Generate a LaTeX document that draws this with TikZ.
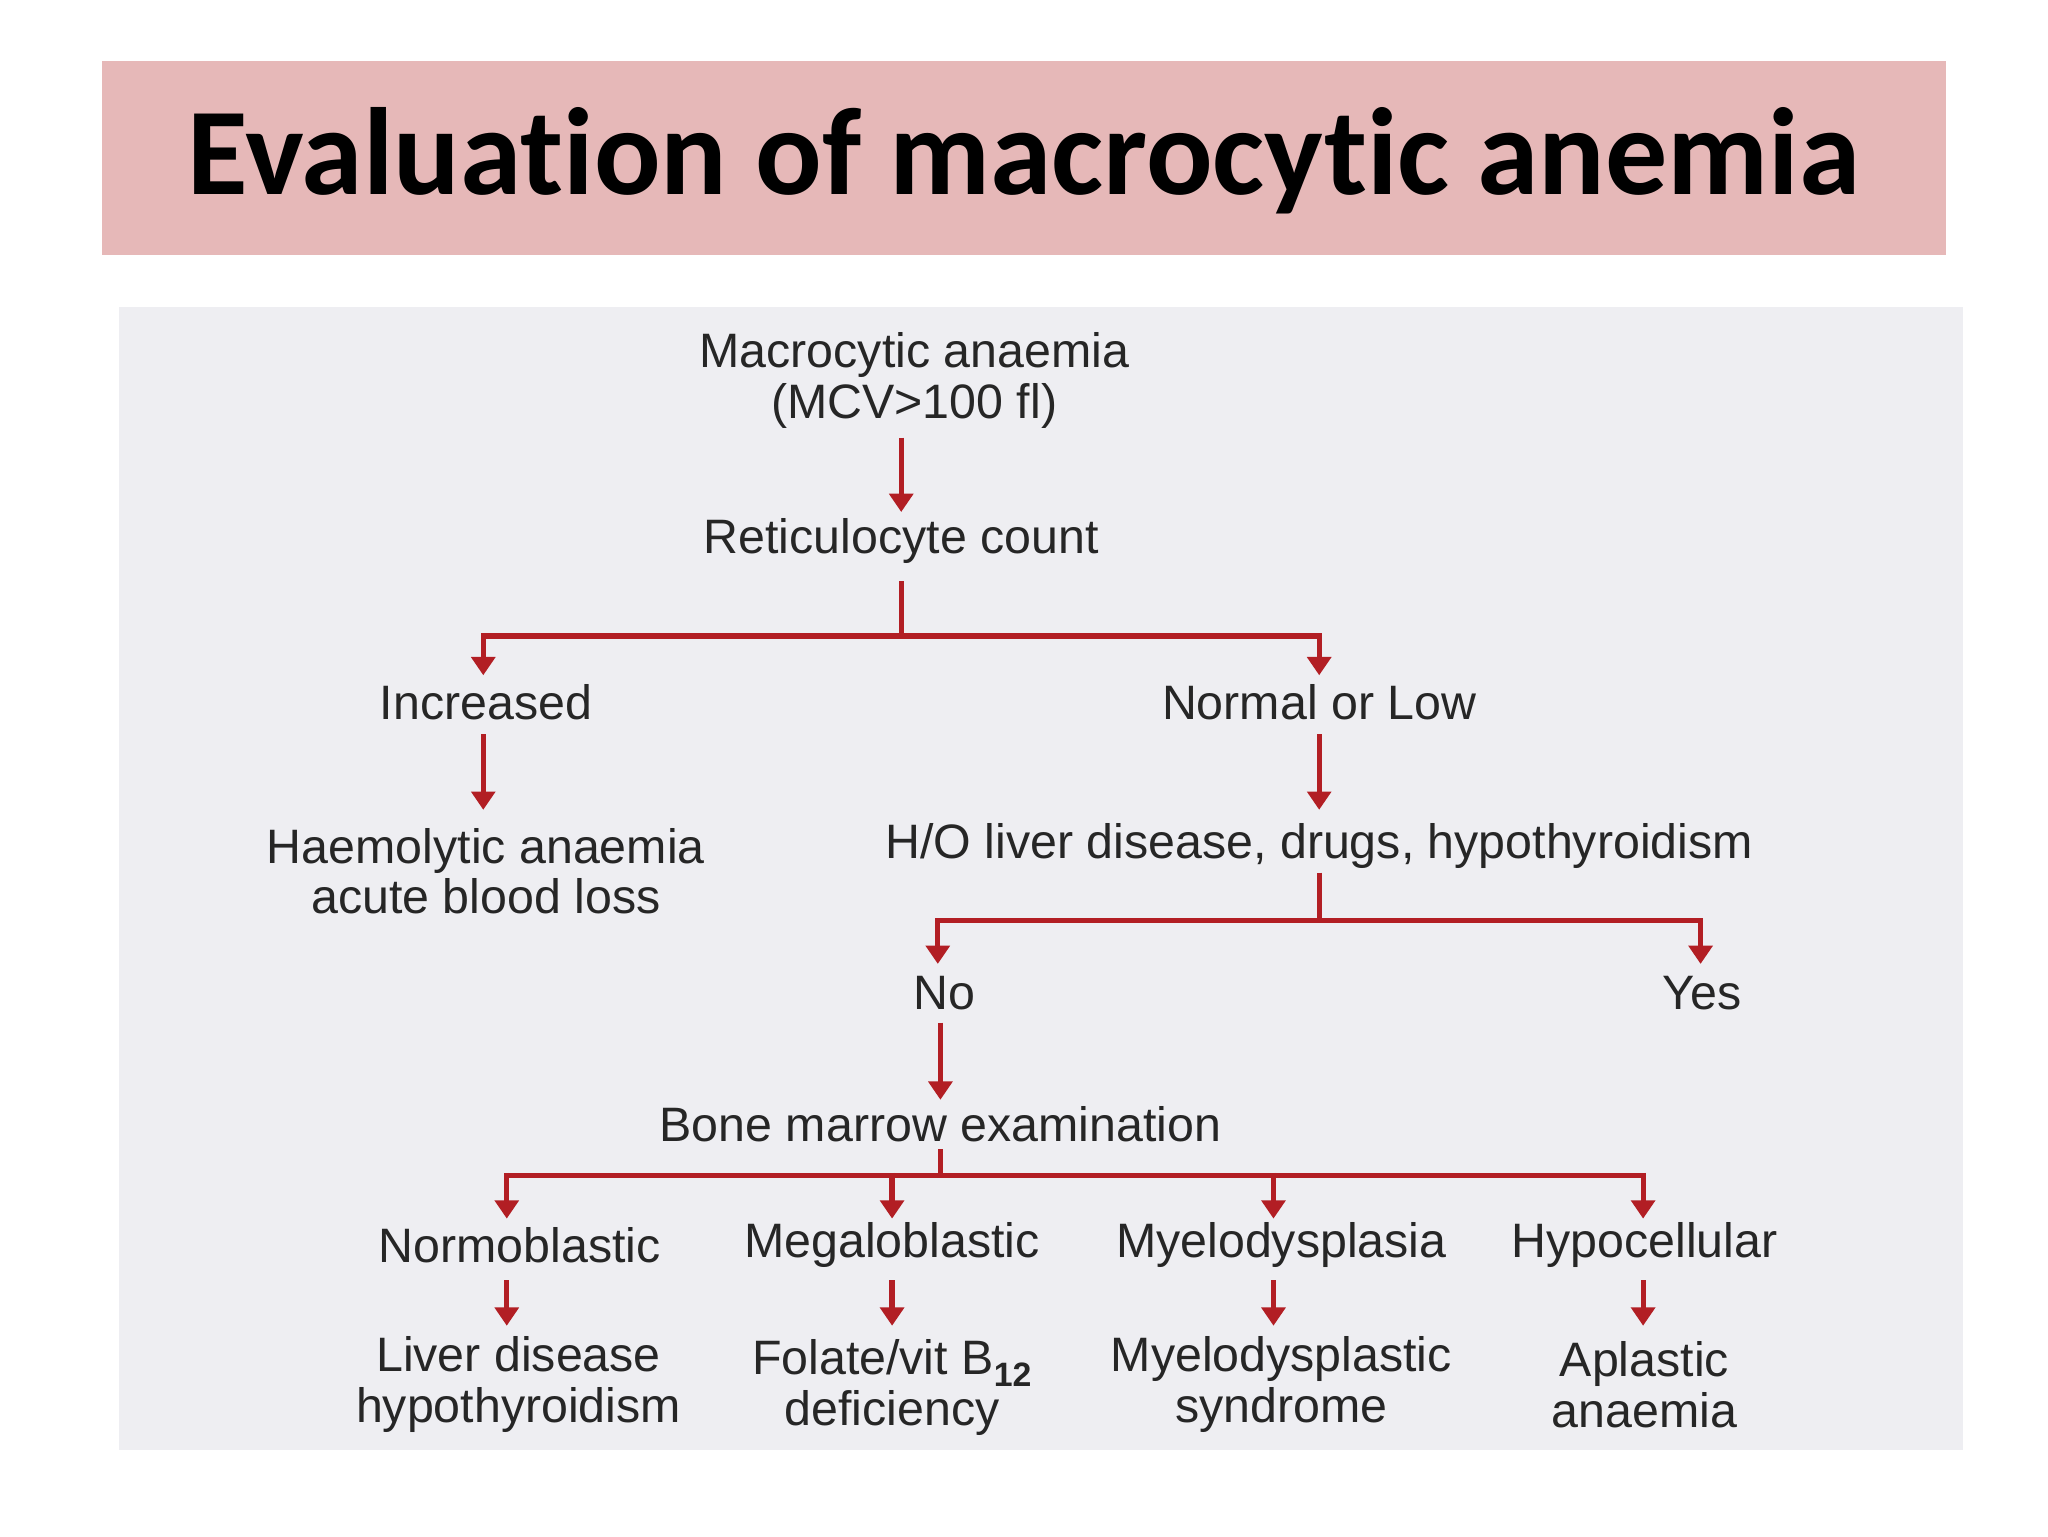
\documentclass[tikz,border=0pt]{standalone}
\usepackage{fontspec}
\setmainfont{Liberation Sans}
\newfontfamily\titlefont[Ligatures=NoCommon]{Carlito}
\usetikzlibrary{arrows.meta}
\definecolor{arr}{RGB}{178,30,36}
\definecolor{band}{RGB}{230,184,184}
\definecolor{panel}{RGB}{238,238,242}
\begin{document}
\begin{tikzpicture}[x=1pt,y=-1pt,
  lbl/.style={align=center,font=\fontsize{37}{39}\selectfont,text=black!85,inner sep=0pt},
  ln/.style={draw=arr,line width=4pt},
  ar/.style={ln,-{Triangle[length=14pt,width=18pt]}}]
\useasboundingbox (0,0) rectangle (1568,1176);
\fill[white] (0,0) rectangle (1568,1176);
\fill[band] (78,47) rectangle (1490,195);
\node[font=\titlefont\bfseries\fontsize{95}{98}\selectfont] (title) at (784,123) {Evaluat\kern0pt ion of macrocyt\kern0pt ic anemia};
\fill[panel] (91,235) rectangle (1503,1110);
\node[lbl] (mac) at (700,291) {Macrocytic anaemia\\(MCV>100 fl)};
\node[lbl] (ret) at (690,414) {Reticulocyte count};
\node[lbl] (inc) at (372,538) {Increased};
\node[lbl] (nol) at (1010,538) {Normal or Low};
\node[lbl] (hae) at (372,667) {Haemolytic anaemia\\acute blood loss};
\node[lbl] (ho) at (1010,648) {H/O liver disease, drugs, hypothyroidism};
\node[lbl] (no) at (723,760) {No};
\node[lbl] (yes) at (1303,760) {Yes};
\node[lbl] (bm) at (720,861) {Bone marrow examination};
\node[lbl] (n1) at (398,953) {Normoblastic};
\node[lbl] (n2) at (683,953) {Megaloblastic};
\node[lbl] (n3) at (981,953) {Myelodysplasia};
\node[lbl] (n4) at (1259,953) {Hypocellular};
\node[lbl] (b1) at (397,1060) {Liver disease\\hypothyroidism};
\node[lbl] (b2) at (683,1062) {Folate/vit B\textsubscript{\textbf{12}}\\deficiency};
\node[lbl] (b3) at (981,1060) {Myelodysplastic\\syndrome};
\node[lbl] (b4) at (1259,1060) {Aplastic\\anaemia};
% arrows
\draw[ar] (690,335) -- (690,392);
\draw[ln] (690,445) -- (690,487);
\draw[ln] (370,487) -- (1010,487);
\draw[ar] (370,485) -- (370,517);
\draw[ar] (1010,485) -- (1010,517);
\draw[ar] (370,562) -- (370,620);
\draw[ar] (1010,562) -- (1010,620);
\draw[ln] (1010,668) -- (1010,705);
\draw[ln] (718,705) -- (1302,705);
\draw[ar] (718,703) -- (718,738);
\draw[ar] (1302,703) -- (1302,738);
\draw[ar] (720,783) -- (720,842);
\draw[ln] (720,880) -- (720,900);
\draw[ln] (388,900) -- (1258,900);
\foreach \x in {388,683,975,1258}{
  \draw[ar] (\x,898) -- (\x,933);
  \draw[ar] (\x,980) -- (\x,1015);
}
\end{tikzpicture}
\end{document}
